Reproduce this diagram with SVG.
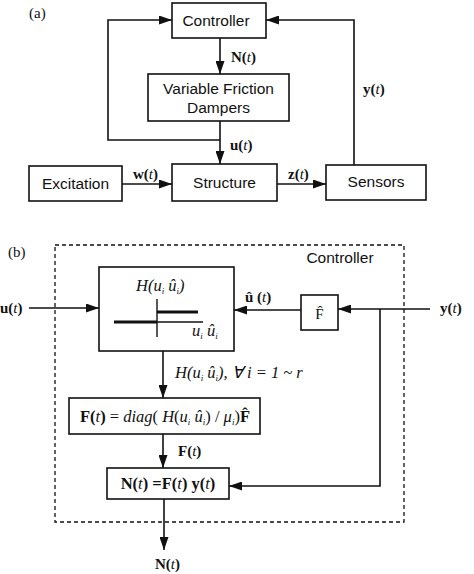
<svg xmlns="http://www.w3.org/2000/svg" width="474" height="574" viewBox="0 0 474 574">
<defs>
<marker id="ah" markerWidth="13" markerHeight="9" refX="13" refY="4.5" orient="auto" markerUnits="userSpaceOnUse">
<path d="M0,0 L13,4.5 L0,9 Z" fill="#111"/>
</marker>
<style>
.box{fill:#fff;stroke:#111;stroke-width:1.6}
.ln{fill:none;stroke:#111;stroke-width:1.6}
.lbl{font-family:"Liberation Sans",Arial,sans-serif;font-size:15.5px;fill:#111;text-anchor:middle}
.m{font-family:"Liberation Serif","Times New Roman",serif;font-size:15px;fill:#111}
.big{font-size:16.5px}
.b{font-weight:bold}
.i{font-style:italic;font-weight:normal}
</style>
</defs>
<rect width="474" height="574" fill="#fff"/>
<text class="m" x="29" y="18">(a)</text>
<text class="m" x="8" y="257">(b)</text>

<g id="connectors">
<path class="ln" d="M220,38 V74" marker-end="url(#ah)"/>
<path class="ln" d="M220,121 V164" marker-end="url(#ah)"/>
<path class="ln" d="M220,140 H108 V20 H172" marker-end="url(#ah)"/>
<path class="ln" d="M354,165 V20 H266" marker-end="url(#ah)"/>
<path class="ln" d="M122,184 H172" marker-end="url(#ah)"/>
<path class="ln" d="M277,184 H326" marker-end="url(#ah)"/>
<path class="ln" d="M29,308 H99" marker-end="url(#ah)"/>
<path class="ln" d="M430,309 H338" marker-end="url(#ah)"/>
<path class="ln" d="M301,310 H234" marker-end="url(#ah)"/>
<path class="ln" d="M380,309 V486 H229" marker-end="url(#ah)"/>
<path class="ln" d="M163,351 V398" marker-end="url(#ah)"/>
<path class="ln" d="M163,434 V468" marker-end="url(#ah)"/>
<path class="ln" d="M164,499 V550" marker-end="url(#ah)"/>
</g>

<g id="edge-labels">
<text class="m b" x="231" y="62">N(<tspan class="i">t</tspan>)</text>
<text class="m b" x="230" y="150">u(<tspan class="i">t</tspan>)</text>
<text class="m b" x="363" y="94">y(<tspan class="i">t</tspan>)</text>
<text class="m b" x="133" y="179">w(<tspan class="i">t</tspan>)</text>
<text class="m b" x="288" y="179">z(<tspan class="i">t</tspan>)</text>
<text class="m b" x="0" y="313">u(<tspan class="i">t</tspan>)</text>
<text class="m b" x="440" y="313">y(<tspan class="i">t</tspan>)</text>
<text class="m b" x="245" y="302">û (<tspan class="i">t</tspan>)</text>
<text class="m i big" x="175" y="378">H(u<tspan font-size="9" dy="3">i</tspan><tspan dy="-3"> û</tspan><tspan font-size="9" dy="3">i</tspan><tspan dy="-3">), ∀ i = 1 ~ r</tspan></text>
<text class="m b" x="178" y="456">F(<tspan class="i">t</tspan>)</text>
<text class="m b" x="155" y="569">N(<tspan class="i">t</tspan>)</text>
</g>

<g id="controller">
<rect class="box" x="172" y="3" width="94" height="35"/>
<text class="lbl" x="216" y="26">Controller</text>
</g>
<g id="dampers">
<rect class="box" x="148" y="74" width="141" height="47"/>
<text class="lbl" x="218.5" y="94">Variable Friction</text>
<text class="lbl" x="218.5" y="113">Dampers</text>
</g>
<g id="excitation">
<rect class="box" x="29" y="166" width="93" height="35"/>
<text class="lbl" x="75.5" y="189">Excitation</text>
</g>
<g id="structure">
<rect class="box" x="172" y="164" width="105" height="37"/>
<text class="lbl" x="224.5" y="188">Structure</text>
</g>
<g id="sensors">
<rect class="box" x="326" y="165" width="100" height="35"/>
<text class="lbl" x="376" y="187">Sensors</text>
</g>

<g id="controller-b">
<rect x="55" y="245" width="349" height="277" fill="none" stroke="#111" stroke-width="1.3" stroke-dasharray="4,3"/>
<text class="lbl" x="340" y="263" font-size="15">Controller</text>
</g>
<g id="heaviside">
<rect class="box" x="99" y="267" width="135" height="84"/>
<text class="m i big" x="136" y="291">H(u<tspan font-size="9" dy="3">i</tspan><tspan dy="-3"> û</tspan><tspan font-size="9" dy="3">i</tspan><tspan dy="-3">)</tspan></text>
<path d="M157,299 V337" stroke="#111" stroke-width="1.4"/>
<path d="M114,322 H157 M157,312 H198" stroke="#111" stroke-width="3"/>
<path d="M157,322 H203" stroke="#111" stroke-width="1.4"/>
<text class="m i big" x="192" y="336">u<tspan font-size="9" dy="3">i</tspan><tspan dy="-3"> û</tspan><tspan font-size="9" dy="3">i</tspan></text>
</g>
<g id="fhat">
<rect class="box" x="301" y="295" width="37" height="35"/>
<text class="m" x="319.5" y="319" text-anchor="middle" font-size="17">F̂</text>
</g>
<g id="fbox">
<rect class="box" x="69" y="398" width="191" height="36"/>
<text class="m big" x="165" y="422" text-anchor="middle"><tspan class="b">F(</tspan><tspan class="i">t</tspan><tspan class="b">)</tspan> = <tspan class="i">diag</tspan>( <tspan class="i">H</tspan>(<tspan class="i">u</tspan><tspan class="i" font-size="9" dy="3">i</tspan><tspan dy="-3"> </tspan><tspan class="i">û</tspan><tspan class="i" font-size="9" dy="3">i</tspan><tspan dy="-3">) / </tspan><tspan class="i">μ</tspan><tspan class="i" font-size="9" dy="3">i</tspan><tspan dy="-3">)</tspan><tspan class="b">F̂</tspan></text>
</g>
<g id="nbox">
<rect class="box" x="107" y="468" width="122" height="31"/>
<text class="m b big" x="168" y="489" text-anchor="middle">N(<tspan class="i">t</tspan>) =F(<tspan class="i">t</tspan>) y(<tspan class="i">t</tspan>)</text>
</g>
</svg>
